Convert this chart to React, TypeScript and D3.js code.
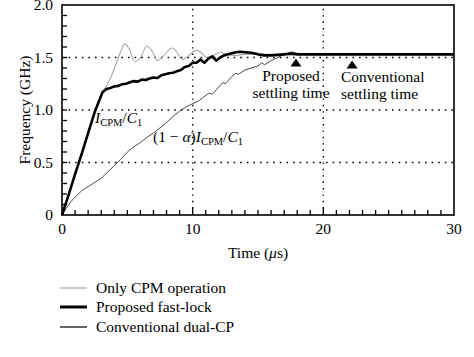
import React from "react";
import * as d3 from "d3";

// ---- data ----
const xTicks = [0, 10, 20, 30];
const yTicks = [0, 0.5, 1.0, 1.5, 2.0];
const yTickLabels = ["0", "0.5", "1.0", "1.5", "2.0"];

const onlyCpmT = [0, 1.5, 3.1, 3.5, 3.9, 4.2, 4.5, 4.8, 5.1, 5.6, 6.0, 6.5, 6.9, 7.3, 7.8, 8.4, 8.8, 9.2, 9.7, 10.3, 10.7, 11.1, 11.6, 12.1, 12.6, 13.2, 14, 15, 16, 17, 17.6, 18.2, 19, 30];
const onlyCpmF = [0, 0.57, 1.17, 1.25, 1.36, 1.46, 1.56, 1.63, 1.59, 1.46, 1.5, 1.61, 1.56, 1.47, 1.52, 1.59, 1.55, 1.48, 1.52, 1.57, 1.54, 1.5, 1.52, 1.55, 1.53, 1.52, 1.53, 1.53, 1.53, 1.53, 1.555, 1.53, 1.53, 1.53];

const proposedT = [0, 0.5, 1, 1.5, 2, 2.5, 3.1, 3.4, 3.7, 4.0, 4.3, 4.6, 4.9, 5.2, 5.5, 5.8, 6.1, 6.4, 6.7, 7.0, 7.3, 7.6, 7.9, 8.2, 8.5, 8.8, 9.1, 9.4, 9.7, 10.0, 10.3, 10.6, 10.9, 11.2, 11.5, 11.8, 12.1, 12.4, 12.7, 13.0, 13.3, 13.6, 14.0, 14.5, 15.0, 15.5, 16.0, 16.5, 17.0, 17.5, 18.0, 19, 30];
const proposedF = [0, 0.19, 0.39, 0.58, 0.78, 0.98, 1.17, 1.2, 1.21, 1.225, 1.23, 1.245, 1.25, 1.265, 1.275, 1.27, 1.29, 1.285, 1.3, 1.31, 1.305, 1.33, 1.34, 1.35, 1.355, 1.37, 1.38, 1.41, 1.42, 1.45, 1.45, 1.48, 1.45, 1.49, 1.51, 1.47, 1.5, 1.52, 1.53, 1.54, 1.55, 1.555, 1.55, 1.545, 1.53, 1.52, 1.52, 1.525, 1.53, 1.535, 1.53, 1.53, 1.53];

const conventionalT = [0, 0.3, 0.7, 1.0, 1.5, 2, 2.5, 3, 3.5, 4, 4.5, 5, 5.5, 6, 6.5, 7, 7.5, 8, 8.5, 9, 9.5, 10, 10.5, 11, 11.3, 11.5, 12, 12.3, 12.5, 13, 13.3, 13.5, 14, 14.5, 15, 15.3, 15.5, 16, 16.5, 17, 17.5, 18, 19, 30];
const conventionalF = [0, 0.06, 0.13, 0.17, 0.23, 0.27, 0.31, 0.35, 0.41, 0.47, 0.53, 0.6, 0.65, 0.69, 0.74, 0.78, 0.83, 0.88, 0.94, 0.99, 1.03, 1.06, 1.09, 1.14, 1.16, 1.15, 1.22, 1.26, 1.25, 1.32, 1.35, 1.34, 1.38, 1.40, 1.42, 1.45, 1.43, 1.47, 1.50, 1.53, 1.55, 1.54, 1.53, 1.53];

const markerT = [17.9, 22.2];

const legendLabels = ["Only CPM operation", "Proposed fast-lock", "Conventional dual-CP"];

const FONT = "'Liberation Serif', 'Times New Roman', serif";

export default function App() {
  const W = 474, H = 357;
  const x = d3.scaleLinear().domain([0, 30]).range([62, 454]);
  const y = d3.scaleLinear().domain([0, 2]).range([215, 5]);

  const mk = (ts: number[], fs: number[], curve: any) =>
    d3.line<number>().x((_, i) => x(ts[i])).y((v) => y(v)).curve(curve)(fs) || "";

  const grayPath = mk(onlyCpmT, onlyCpmF, d3.curveMonotoneX);
  const thickPath = mk(proposedT, proposedF, d3.curveLinear);
  const thinPath = mk(conventionalT, conventionalF, d3.curveLinear);

  const xMinor = d3.range(1, 30);
  const yMinor = d3.range(1, 20).map((v) => v / 10);

  const legendY = [288, 307, 327];
  const legendStyles = [
    { stroke: "#a8a8a8", w: 1.2 },
    { stroke: "#000", w: 3 },
    { stroke: "#333", w: 1.5 },
  ];

  return (
    <svg width={W} height={H} style={{ position: "absolute", left: 0, top: 0, background: "#fff" }} fontFamily={FONT}>
      {/* grid */}
      {[0.5, 1.0, 1.5].map((v) => (
        <line key={"gy" + v} x1={x(0)} x2={x(30)} y1={y(v)} y2={y(v)} stroke="#000" strokeWidth={1.6} strokeDasharray="1.6,5" />
      ))}
      {[10, 20].map((v) => (
        <line key={"gx" + v} x1={x(v)} x2={x(v)} y1={y(0)} y2={y(2)} stroke="#000" strokeWidth={1.4} strokeDasharray="1.4,5" />
      ))}
      {/* ticks */}
      {xMinor.map((v) => (
        <line key={"xt" + v} x1={x(v)} x2={x(v)} y1={y(0)} y2={y(0) - (v % 10 === 0 ? 8 : 5)} stroke="#000" strokeWidth={1.3} />
      ))}
      {yMinor.map((v) => (
        <line key={"yt" + v} x1={x(0)} x2={x(0) + 5} y1={y(v)} y2={y(v)} stroke="#000" strokeWidth={1.3} />
      ))}
      {/* curves */}
      <path d={grayPath} fill="none" stroke="#a8a8a8" strokeWidth={1.1} />
      <path d={thinPath} fill="none" stroke="#333" strokeWidth={0.9} />
      <path d={thickPath} fill="none" stroke="#000" strokeWidth={2.6} strokeLinejoin="round" />
      {/* frame */}
      <rect x={x(0)} y={y(2)} width={x(30) - x(0)} height={y(0) - y(2)} fill="none" stroke="#000" strokeWidth={1.6} />
      {/* tick labels */}
      {yTicks.map((v, i) => (
        <text key={"yl" + v} x={53} y={y(v)} dy="0.35em" textAnchor="end" fontSize={15.5}>{yTickLabels[i]}</text>
      ))}
      {xTicks.map((v) => (
        <text key={"xl" + v} x={x(v)} y={234} textAnchor="middle" fontSize={15.5}>{v}</text>
      ))}
      <text x={x(15)} y={258} textAnchor="middle" fontSize={15.5}>
        Time (<tspan fontStyle="italic">μ</tspan>s)
      </text>
      <text transform={`translate(30,${y(1)}) rotate(-90)`} textAnchor="middle" fontSize={15.5}>Frequency (GHz)</text>
      {/* markers */}
      {markerT.map((t, i) => {
        const cx = x(t), top = y(1.5) + 1 + i * 2;
        return <path key={"m" + i} d={`M${cx},${top} L${cx - 5.5},${top + 8} L${cx + 5.5},${top + 8} Z`} fill="#000" />;
      })}
      <text x={291} y={81} textAnchor="middle" fontSize={15.5}>Proposed</text>
      <text x={291} y={98} textAnchor="middle" fontSize={15.5}>settling time</text>
      <text x={341} y={82} fontSize={15.5}>Conventional</text>
      <text x={341} y={99} fontSize={15.5}>settling time</text>
      {/* annotations */}
      <text x={95} y={123} fontSize={15.5}>
        <tspan fontStyle="italic">I</tspan>
        <tspan fontSize={10.5} dy={3}>CPM</tspan>
        <tspan dy={-3}>/</tspan>
        <tspan fontStyle="italic">C</tspan>
        <tspan fontSize={10.5} dy={3}>1</tspan>
      </text>
      <text x={153} y={142} fontSize={15.5}>
        <tspan>(1 − </tspan>
        <tspan fontStyle="italic">α</tspan>
        <tspan>)</tspan>
        <tspan fontStyle="italic">I</tspan>
        <tspan fontSize={10.5} dy={3}>CPM</tspan>
        <tspan dy={-3}>/</tspan>
        <tspan fontStyle="italic">C</tspan>
        <tspan fontSize={10.5} dy={3}>1</tspan>
      </text>
      {/* legend */}
      {legendLabels.map((lab, i) => (
        <g key={lab}>
          <line x1={60} x2={87} y1={legendY[i]} y2={legendY[i]} stroke={legendStyles[i].stroke} strokeWidth={legendStyles[i].w} />
          <text x={96} y={legendY[i]} dy="0.33em" fontSize={15.5}>{lab}</text>
        </g>
      ))}
    </svg>
  );
}
